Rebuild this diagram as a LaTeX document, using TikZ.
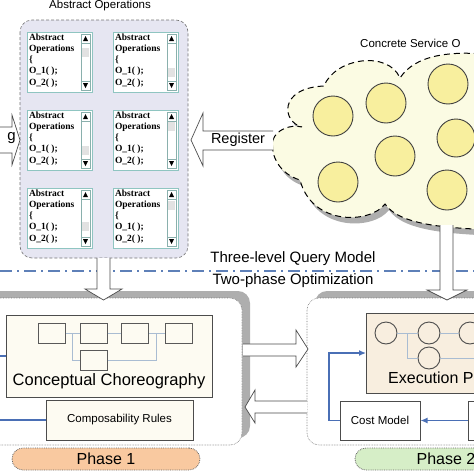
\documentclass[tikz,border=0pt]{standalone}
\usepackage{fontspec}
\setmainfont{Liberation Sans}
\newfontfamily\serifb{Liberation Serif}
\usetikzlibrary{arrows.meta,calc}
\definecolor{panelfill}{HTML}{E6E6F2}
\definecolor{tealc}{HTML}{8FC5C1}
\definecolor{cloudfill}{HTML}{FBFBE3}
\definecolor{dotfill}{HTML}{F8EF9E}
\definecolor{shadowc}{HTML}{AEAEAE}
\definecolor{ccfill}{HTML}{FDFBF2}
\definecolor{epfill}{HTML}{F8EEDF}
\definecolor{linkc}{HTML}{A9BCD2}
\definecolor{bluec}{HTML}{4A6FB5}
\definecolor{dashc}{HTML}{5E80B8}
\definecolor{ph1}{HTML}{F9C9A0}
\definecolor{ph2}{HTML}{D6EEC7}
\definecolor{thumbc}{HTML}{E2E2E2}
\tikzset{
  lbox/.style={draw=tealc, line width=1.3pt, fill=white, inner sep=0pt},
  sbar/.style={draw=tealc!70!gray, line width=0.5pt, fill=white},
  abtext/.style={inner sep=0pt, align=left, font=\serifb\bfseries\fontsize{9.5}{11.2}\selectfont},
  hollow/.style={draw=black!70, line width=0.7pt, fill=white},
  boxc/.style={draw=black!70, line width=1pt, inner sep=0pt},
  small/.style={draw=black!65, line width=1pt, fill=ccfill, minimum width=27pt, minimum height=20pt, inner sep=0pt},
  dotc/.style={circle, draw=black!70, line width=0.9pt, fill=epfill, minimum size=22pt, inner sep=0pt},
  link/.style={draw=linkc, line width=1pt},
  bluearrow/.style={draw=bluec, line width=1.3pt, -{Latex[length=7pt,width=6pt]}},
  blueline/.style={draw=bluec, line width=1.3pt},
  pill/.style={draw=black!60, densely dotted, line width=0.8pt, rounded corners=11pt},
  panel/.style={draw=black!55, densely dotted, line width=0.6pt, fill=white, rounded corners=12pt},
  sdw/.style={fill=shadowc, rounded corners=12pt},
  yc/.style={circle, draw=black!75, line width=0.9pt, fill=dotfill, inner sep=0pt},
  lbl/.style={inner sep=0pt}
}
\newcommand{\absbox}[4]{%
  \node[lbox, anchor=north west, minimum width=65pt, minimum height=60pt] (#1) at (#2,#3) {};
  \draw[sbar] (#2+54,#3+2) rectangle (#2+63,#3+58);
  \draw[tealc!70!gray, line width=0.4pt] (#2+54,#3+11) -- (#2+63,#3+11) (#2+54,#3+49) -- (#2+63,#3+49);
  \fill[thumbc] (#2+55,#3+#4) rectangle (#2+62,#3+#4+9);
  \fill[black] (#2+56,#3+9) -- (#2+61,#3+9) -- (#2+58.5,#3+4) -- cycle;
  \fill[black] (#2+56,#3+51) -- (#2+61,#3+51) -- (#2+58.5,#3+56) -- cycle;
  \node[abtext, anchor=north west] (#1t) at (#2+1.8,#3+1.5) {Abstract\\Operations\\\{\\O\_1( );\\O\_2( );};
}
\begin{document}
\begin{tikzpicture}[x=1pt,y=-1pt]
\useasboundingbox (0,0) rectangle (474,474);
% ---------- abstract operations panel
\node[lbl, font=\fontsize{11.5}{13}\selectfont] (abtitle) at (100,6) {Abstract Operations};
\draw[draw=black!55, densely dashed, line width=0.6pt, fill=panelfill, rounded corners=12pt] (20,20) rectangle (188,258);
\absbox{a1}{27}{32}{16}
\absbox{a2}{113}{32}{36}
\absbox{a3}{27}{110}{36}
\absbox{a4}{113}{110}{12}
\absbox{a5}{27}{188}{34}
\absbox{a6}{113}{188}{13}
% ---------- left "g" arrow
\draw[hollow] (-5,127) -- (12,127) -- (12,115) -- (20,140) -- (12,165) -- (12,153) -- (-5,153);
\node[lbl, font=\fontsize{15}{17}\selectfont, anchor=east] (garr) at (16,138) {g};
% ---------- cloud
\def\cloudpath{(273,140) .. controls (276,130) and (290,124) .. (302,127)
  .. controls (282,122) and (278,88) .. (324,86)
  .. controls (335,58) and (388,50) .. (400,78)
  .. controls (415,55) and (450,50) .. (495,55)
  -- (495,230)
  .. controls (450,228) and (400,226) .. (385,204)
  .. controls (370,224) and (312,226) .. (300,180)
  .. controls (280,174) and (270,156) .. (273,140) -- cycle}
\begin{scope}[shift={(4,6)}]
  \fill[shadowc] \cloudpath;
\end{scope}
\fill[cloudfill] \cloudpath;
\draw[black, dashed, dash pattern=on 6pt off 4pt, line width=1pt] \cloudpath;
\node[lbl, font=\fontsize{11.5}{13}\selectfont, anchor=west] (cstitle) at (360,43) {Concrete Service O};
\node[yc, minimum size=40pt] (y1) at (333,116) {};
\node[yc, minimum size=40pt] (y2) at (386,103) {};
\node[yc, minimum size=40pt] (y3) at (448,84) {};
\node[yc, minimum size=38pt] (y4) at (456,138) {};
\node[yc, minimum size=40pt] (y5) at (395,156) {};
\node[yc, minimum size=40pt] (y6) at (338,182) {};
\node[yc, minimum size=40pt] (y7) at (447,190) {};
% ---------- register arrow
\draw[hollow] (273,131) -- (203,131) -- (203,113) -- (191,140) -- (203,166) -- (203,150) -- (273,150);
\node[lbl, font=\fontsize{14.5}{16}\selectfont] (reg) at (238,140) {Register};
% ---------- separator
\node[lbl, font=\fontsize{15}{17}\selectfont] (tlq) at (293,259) {Three-level Query Model};
\draw[dashc, line width=1.6pt, dash pattern=on 12pt off 5pt on 2pt off 5pt] (0,271) -- (474,271);
\node[lbl, font=\fontsize{15}{17}\selectfont] (tpo) at (293,281) {Two-phase Optimization};
% ---------- phase panels
\fill[sdw] (-12,291) rectangle (250,438);
\draw[panel] (-20,298) rectangle (242,445);
\fill[sdw] (315,291) rectangle (520,438);
\draw[panel] (307,298) rectangle (512,445);
% down arrows
\draw[hollow] (97,258) -- (97,289) -- (85,289) -- (103.5,300) -- (122,289) -- (110,289) -- (110,258);
\draw[hollow] (440,225) -- (440,290) -- (427,290) -- (447,300) -- (467,290) -- (453,290) -- (453,225);
% middle arrows
\draw[hollow] (243,344) -- (296,344) -- (296,330) -- (308,349) -- (296,367) -- (296,356) -- (243,356);
\draw[hollow] (307,401) -- (255,401) -- (255,390) -- (245,407) -- (255,423) -- (255,413) -- (307,413);
% ---------- phase 1 content
\node[boxc, fill=ccfill, minimum width=206pt, minimum height=82pt] (cc) at (109,356) {};
\node[lbl, font=\fontsize{16.5}{18}\selectfont] (cctext) at (109,381) {Conceptual Choreography};
\node[small] (s1) at (51.5,333) {};
\node[small] (s2) at (93.5,333) {};
\node[small] (s3) at (135,333) {};
\node[small] (s4) at (178.5,333) {};
\node[small] (s5) at (93.5,360) {};
\draw[link] (s1) -- (s2);
\draw[link] (s2) -- (s3);
\draw[link] (s3) -- (s4);
\draw[link] ($(s1.east)+(7,0)$) |- (s5.west);
\draw[link] (s5.east) -| ($(s3.east)!0.5!(s4.west)$);
\node[boxc, fill=ccfill, minimum width=147pt, minimum height=40pt, font=\fontsize{11.5}{13}\selectfont] (cr) at (119.5,420) {Composability Rules};
\coordinate (lin1) at (-5,356);
\coordinate (lin2) at (-5,420);
\draw[blueline] (lin1) -- (cc.west);
\draw[blueline] (lin2) -- (cr.west);
\node[pill, fill=ph1, minimum width=188pt, minimum height=22pt, font=\fontsize{16}{18}\selectfont] (p1) at (106,459) {Phase 1};
% ---------- phase 2 content
\node[boxc, fill=epfill, minimum width=164pt, minimum height=80pt] (ep) at (448,353) {};
\node[lbl, font=\fontsize{16}{18}\selectfont, anchor=west] (eptext) at (388,378) {Execution P};
\node[dotc] (c1) at (386,333) {};
\node[dotc] (c2) at (429,333) {};
\node[dotc] (c3) at (470,333) {};
\node[dotc] (c4) at (429,358) {};
\draw[link] (c1) -- (c2);
\draw[link] (c2) -- (c3);
\draw[link] ($(c1.east)!0.5!(c2.west)$) |- (c4.west);
\coordinate (c4out) at (490,358);
\draw[link] (c4.east) -- (c4out);
\node[boxc, fill=white, minimum width=80pt, minimum height=39pt, font=\fontsize{11.5}{13}\selectfont] (cm) at (380,420.5) {Cost Model};
\node[boxc, fill=white, minimum width=62pt, minimum height=39pt] (rb) at (499,420.5) {};
\coordinate (bend) at (329,420.5);
\coordinate (epin) at (366,353);
\draw[bluearrow] (cm.west) -- (bend) |- (epin);
\draw[bluearrow] (rb.west) -- (cm.east);
\node[pill, fill=ph2, minimum width=182pt, minimum height=22pt] (p2) at (446,459) {};
\node[lbl, font=\fontsize{16}{18}\selectfont] (p2text) at (446,459) {Phase 2};
\end{tikzpicture}
\end{document}
